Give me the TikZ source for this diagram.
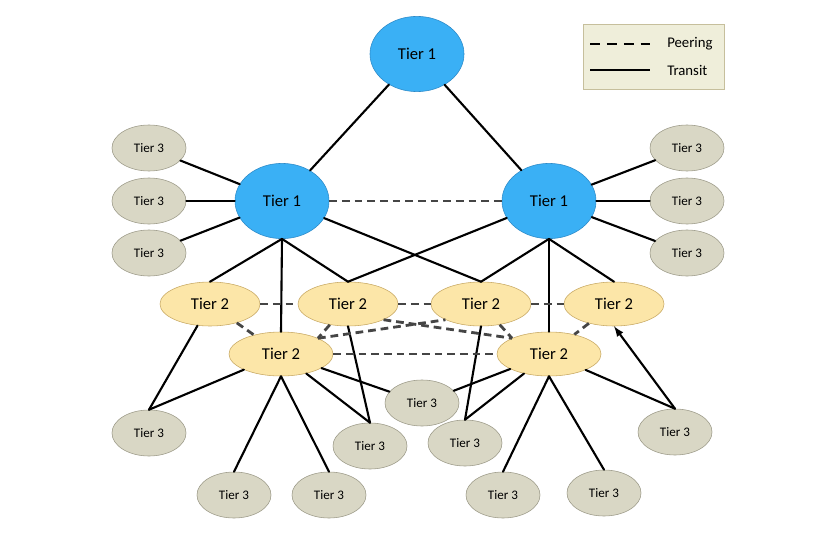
\documentclass[tikz,border=0pt]{standalone}
\usepackage{fontspec}
\setmainfont{Carlito}
\usetikzlibrary{shapes.geometric}
\definecolor{tonefill}{HTML}{3AB0F5}
\definecolor{toneline}{HTML}{2C8AC8}
\definecolor{ttwofill}{HTML}{FCE6A8}
\definecolor{ttwoline}{HTML}{C8A964}
\definecolor{tthrfill}{HTML}{D9D7C5}
\definecolor{tthrline}{HTML}{9C9A88}
\definecolor{keyfill}{HTML}{EFEEDA}
\definecolor{keyline}{HTML}{C6BF9C}
\definecolor{dashgray}{HTML}{454545}
\begin{document}
\begin{tikzpicture}[x=0.025cm,y=-0.025cm,
    tierone/.style={ellipse,inner sep=0pt,minimum width=2.35cm,minimum height=1.88cm,fill=tonefill,draw=toneline,font=\fontsize{11.8}{13}\selectfont},
    tiertwo/.style={ellipse,inner sep=0pt,minimum width=2.5cm,minimum height=1.1cm,fill=ttwofill,draw=ttwoline,font=\fontsize{11.8}{13}\selectfont},
    tierthree/.style={ellipse,inner sep=0pt,minimum width=1.85cm,minimum height=1.15cm,fill=tthrfill,draw=tthrline,font=\fontsize{9.3}{11}\selectfont},
    transit/.style={line width=1.5pt,line cap=round},
    peering/.style={line width=2pt,draw=dashgray,dash pattern=on 5.5pt off 3.5pt}]
  \useasboundingbox (0,0) rectangle (840,532);

  \node[draw=keyline,fill=keyfill,minimum width=3.525cm,minimum height=1.625cm] (key) at (653.5,56.5) {};
  \coordinate (pa) at (590,44);
  \coordinate (pb) at (650,44);
  \coordinate (ta) at (590,70);
  \coordinate (tb) at (650,70);
  \node[anchor=west,inner sep=0pt,font=\fontsize{10.5}{12}\selectfont] (peer) at (667,44) {Peering};
  \node[anchor=west,inner sep=0pt,font=\fontsize{10.5}{12}\selectfont] (tran) at (667,70) {Transit};
  \draw[line width=2pt,dash pattern=on 7pt off 5pt] (pa) -- (pb);
  \draw[line width=2pt] (ta) -- (tb);

  \node[tierone] (top) at (417,54) {Tier 1};
  \node[tierone] (onel) at (282,201) {Tier 1};
  \node[tierone] (oner) at (549,201) {Tier 1};

  \foreach \n/\y in {1/148,2/201,3/253} {
    \node[tierthree] (lt\n) at (149,\y) {Tier 3};
    \node[tierthree] (rt\n) at (687,\y) {Tier 3};
  }

  \node[tiertwo] (a) at (210,304) {Tier 2};
  \node[tiertwo] (b) at (348,304) {Tier 2};
  \node[tiertwo] (c) at (481,304) {Tier 2};
  \node[tiertwo] (d) at (614,304) {Tier 2};
  \node[tiertwo,minimum width=2.6cm] (e) at (281,354) {Tier 2};
  \node[tiertwo,minimum width=2.6cm] (f) at (549,354) {Tier 2};

  \node[tierthree] (g) at (149,433) {Tier 3};
  \node[tierthree] (h) at (234,495) {Tier 3};
  \node[tierthree] (i) at (329,495) {Tier 3};
  \node[tierthree] (j) at (370,446) {Tier 3};
  \node[tierthree] (k) at (422,403) {Tier 3};
  \node[tierthree] (l) at (465,443) {Tier 3};
  \node[tierthree] (m) at (503,495) {Tier 3};
  \node[tierthree] (n) at (604,493) {Tier 3};
  \node[tierthree] (o) at (675,432) {Tier 3};

  \draw[transit] (top) -- (onel);
  \draw[transit] (top) -- (oner);
  \foreach \n in {1,2,3} {
    \draw[transit] (onel) -- (lt\n);
    \draw[transit] (oner) -- (rt\n);
  }
  \draw[transit] (onel.south) -- (a.north);
  \draw[transit] (onel.south) -- (e.north);
  \draw[transit] (onel.south) -- (b.north);
  \draw[transit] (onel) -- (c.north);
  \draw[transit] (oner) -- (b.north);
  \draw[transit] (oner.south) -- (c.north);
  \draw[transit] (oner.south) -- (f.north);
  \draw[transit] (oner.south) -- (d.north);

  \draw[transit] (a) -- (g.north);
  \draw[transit] (e) -- (g.north);
  \draw[transit] (e.south) -- (h.north);
  \draw[transit] (e.south) -- (i.north);
  \draw[transit] (e) -- (j.north);
  \draw[transit] (b.south) -- (j.north);
  \draw[transit] (e) -- (k);
  \draw[transit] (f) -- (k);
  \draw[transit] (c.south) -- (l.north);
  \draw[transit] (f) -- (l.north);
  \draw[transit] (f.south) -- (m.north);
  \draw[transit] (f.south) -- (n.north);
  \draw[transit] (f) -- (o.north);
  \draw[transit,-latex] (o.north) -- (d.south);

  \draw[peering] (onel) -- (oner);
  \draw[peering] (a) -- (b);
  \draw[peering] (b) -- (c);
  \draw[peering] (c) -- (d);
  \draw[peering] (a) -- (e);
  \draw[peering] (b) -- (e.north east);
  \draw[peering] (c) -- (f.north west);
  \draw[peering] (d) -- (f);
  \draw[peering] (e) -- (f);
  \draw[peering] (e.north east) -- (c.south west);
  \draw[peering] (b.south east) -- (f.north west);
\end{tikzpicture}
\end{document}
